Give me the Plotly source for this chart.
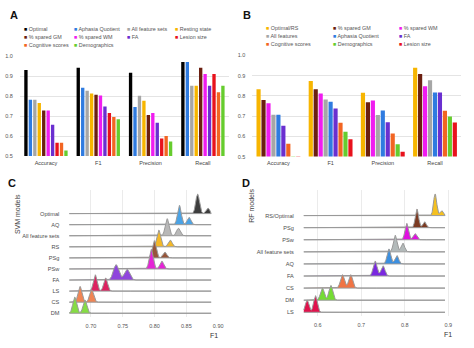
import numpy as np
import plotly.graph_objects as go

W, H = 474, 348


def px(x):
    return x / W


def py(y):
    return 1 - y / H


# ---------------- Panel A data (SVM bar chart) ----------------
metrics = ["Accuracy", "F1", "Precision", "Recall"]

a_names = ["Optimal", "Aphasia Quotient", "All feature sets", "Resting state",
           "% spared GM", "% spared WM", "FA", "Lesion size",
           "Cognitive scores", "Demographics"]
a_colors = ["#000000", "#2f7be0", "#a6a6a6", "#f7b500", "#6b1f10",
            "#f01cf0", "#6a2fd0", "#e8121c", "#f26522", "#66cc2e"]
a_accuracy = [0.930, 0.782, 0.782, 0.765, 0.728, 0.728, 0.656, 0.566, 0.566, 0.528]
a_f1 = [0.942, 0.842, 0.827, 0.813, 0.807, 0.803, 0.748, 0.715, 0.695, 0.684]
a_precision = [0.916, 0.745, 0.801, 0.777, 0.705, 0.715, 0.667, 0.588, 0.600, 0.572]
a_recall = [0.970, 0.970, 0.851, 0.851, 0.941, 0.910, 0.851, 0.910, 0.819, 0.851]

# ---------------- Panel B data (RF bar chart) ----------------
b_names = ["Optimal/RS", "% spared GM", "% spared WM", "All features",
           "Aphasia Quotient", "FA", "Cognitive scores", "Demographics",
           "Lesion size"]
b_colors = ["#f7b500", "#6b1f10", "#f01cf0", "#a6a6a6", "#2f7be0",
            "#6a2fd0", "#f26522", "#66cc2e", "#e8121c"]
b_accuracy = [0.833, 0.779, 0.763, 0.707, 0.707, 0.653, 0.564, 0.500, 0.500]
b_f1 = [0.874, 0.833, 0.812, 0.782, 0.771, 0.738, 0.667, 0.623, 0.586]
b_precision = [0.815, 0.768, 0.777, 0.706, 0.728, 0.670, 0.614, 0.561, 0.524]
b_recall = [0.939, 0.908, 0.848, 0.877, 0.817, 0.817, 0.727, 0.698, 0.668]

bar_ticks = [0.5, 0.6, 0.7, 0.8, 0.9, 1.0]

# ---------------- Panel C data (SVM ridgelines, top to bottom) ----------------
c_models = ["Optimal", "AQ", "All feature sets", "RS", "PSg", "PSw", "FA",
            "LS", "CS", "DM"]
c_peak1 = [0.8677, 0.8390, 0.8198, 0.8067, 0.7995, 0.7948, 0.7395, 0.7067, 0.6828, 0.6745]
c_peak2 = [0.8839, 0.8542, 0.8375, 0.8245, 0.8161, 0.8114, 0.7567, 0.7230, 0.7011, 0.6906]
c_h1 = [1.77, 1.75, 1.54, 1.51, 1.56, 1.77, 1.39, 1.48, 1.42, 1.46]
c_h2 = [0.50, 0.66, 0.68, 0.62, 0.53, 0.71, 0.98, 1.19, 1.12, 1.19]
c_bw = [0.0029, 0.0029, 0.0030, 0.0030, 0.0030, 0.0030, 0.0042, 0.0030, 0.0031, 0.0030]
c_colors = ["#3d3d3d", "#4aa3e6", "#b8b8b8", "#f3b828", "#96553a",
            "#e524d6", "#8f45dc", "#dc2260", "#f08554", "#86dc44"]
c_xrange = [0.666, 0.889]
c_ticks = [0.70, 0.75, 0.80, 0.85, 0.90]

# ---------------- Panel D data (RF ridgelines, top to bottom) ----------------
d_models = ["RS/Optimal", "PSg", "PSw", "All feature sets", "AQ", "FA", "CS",
            "DM", "LS"]
d_peak1 = [0.8698, 0.8280, 0.8045, 0.7780, 0.7636, 0.7318, 0.6568, 0.6107, 0.5757]
d_peak2 = [0.8848, 0.8455, 0.8234, 0.7955, 0.7818, 0.7500, 0.6757, 0.6302, 0.5948]
d_h1 = [1.79, 1.54, 1.36, 1.38, 1.24, 1.25, 1.11, 1.00, 1.01]
d_h2 = [0.41, 0.49, 0.52, 0.73, 0.70, 0.85, 1.11, 1.22, 1.38]
d_bw = [0.0036, 0.0038, 0.0040, 0.0040, 0.0042, 0.0044, 0.0045, 0.0044, 0.0042]
d_colors = ["#f5c01f", "#7b3a22", "#e012e0", "#b3baba", "#3b8fe0",
            "#7a28e0", "#f07444", "#74dc32", "#e0124c"]
d_xrange = [0.568, 0.8925]
d_ticks = [0.6, 0.7, 0.8, 0.9]

fig = go.Figure()

FONT = "Liberation Sans, Arial, sans-serif"
TICKC = "#555555"


def add_bars(names, colors, series, xa, ya, slot, bw):
    n = len(names)
    for i in range(n):
        vals = [s[i] for s in series]
        off = -n * slot / 2 + i * slot + (slot - bw) / 2
        fig.add_trace(go.Bar(
            x=metrics, y=vals, name=names[i], marker_color=colors[i],
            marker_line_width=0, offset=off, width=bw,
            xaxis=xa, yaxis=ya, showlegend=False))


add_bars(a_names, a_colors, [a_accuracy, a_f1, a_precision, a_recall],
         "x", "y", 0.085, 0.064)
add_bars(b_names, b_colors, [b_accuracy, b_f1, b_precision, b_recall],
         "x2", "y2", 0.095, 0.080)


def add_ridges(models, p1, p2, h1, h2, bws, colors, xr, xa, ya):
    grid = np.linspace(xr[0], xr[1], 600)
    n = len(models)
    for i in range(n):
        base = n - 1 - i
        dens = (h1[i] * np.exp(-0.5 * ((grid - p1[i]) / bws[i]) ** 2)
                + h2[i] * np.exp(-0.5 * ((grid - p2[i]) / bws[i]) ** 2))
        xs = np.concatenate([grid, grid[::-1]])
        ys = np.concatenate([base + dens, np.full(grid.size, base)])
        fig.add_trace(go.Scatter(
            x=xs, y=ys, mode="lines", fill="toself", fillcolor=colors[i],
            line=dict(color="#9a9a9a", width=1.0), name=models[i],
            xaxis=xa, yaxis=ya, showlegend=False, hoverinfo="skip"))


add_ridges(c_models, c_peak1, c_peak2, c_h1, c_h2, c_bw, c_colors, c_xrange, "x3", "y3")
add_ridges(d_models, d_peak1, d_peak2, d_h1, d_h2, d_bw, d_colors, d_xrange, "x4", "y4")

bar_y = dict(range=[0.5, 1.0], tickvals=bar_ticks, tickformat=".1f",
             showgrid=True, gridcolor="#e4e4e4", gridwidth=1, zeroline=False,
             showline=False, ticks="", tickfont=dict(size=5.5, color=TICKC, family=FONT),
             ticklabelstandoff=6)
bar_x = dict(type="category", showgrid=False, showline=False, ticks="",
             tickfont=dict(size=5.5, color="#444444", family=FONT), ticklabelstandoff=2)

nC = len(c_models)
nD = len(d_models)

fig.update_layout(
    width=W, height=H, margin=dict(l=0, r=0, t=0, b=0),
    paper_bgcolor="white", plot_bgcolor="white", barmode="overlay",
    font=dict(family=FONT),
    xaxis=dict(domain=[px(20), px(231.5)], anchor="y", **bar_x),
    yaxis=dict(domain=[py(155.7), py(54)], anchor="x", **bar_y),
    xaxis2=dict(domain=[px(255), px(466)], anchor="y2", **bar_x),
    yaxis2=dict(domain=[py(156.3), py(53.3)], anchor="x2", **bar_y),
    xaxis3=dict(domain=[px(63), px(220.5)], anchor="y3", range=[0.655, 0.900],
                tickvals=c_ticks, ticktext=["%.2f" % t for t in c_ticks],
                showgrid=True, gridcolor="#ebebeb", zeroline=False, ticks="",
                tickfont=dict(size=5.5, color=TICKC, family=FONT), ticklabelstandoff=5),
    yaxis3=dict(domain=[py(319), py(190)], anchor="x3", range=[-0.293, 11.156],
                tickvals=[nC - 1 - i for i in range(nC)], ticktext=c_models,
                showgrid=False, zeroline=False, ticks="",
                tickfont=dict(size=5.6, color="#4d4d4d", family=FONT), ticklabelstandoff=2),
    xaxis4=dict(domain=[px(300), px(457)], anchor="y4", range=[0.552, 0.909],
                tickvals=d_ticks, ticktext=["%.1f" % t for t in d_ticks],
                showgrid=True, gridcolor="#ebebeb", zeroline=False, ticks="",
                tickfont=dict(size=5.5, color=TICKC, family=FONT), ticklabelstandoff=5),
    yaxis4=dict(domain=[py(318), py(190)], anchor="x4", range=[-0.268, 10.14],
                tickvals=[nD - 1 - i for i in range(nD)], ticktext=d_models,
                showgrid=False, zeroline=False, ticks="",
                tickfont=dict(size=5.6, color="#4d4d4d", family=FONT), ticklabelstandoff=2),
)

ann = []
# panel letters
for letter, x, y in [("A", 8, 12), ("B", 244, 12), ("C", 6, 183), ("D", 243, 183)]:
    ann.append(dict(text="<b>%s</b>" % letter, x=px(x), y=py(y), xref="paper", yref="paper",
                    xanchor="left", yanchor="middle", showarrow=False,
                    font=dict(size=11, color="#111111", family=FONT)))


def legend_ann(names, colors, xs, ys, ncol):
    for k, (nm, col) in enumerate(zip(names, colors)):
        r, c = divmod(k, ncol)
        ann.append(dict(text='<span style="color:%s">■</span> %s' % (col, nm),
                        x=px(xs[c] - 2), y=py(ys[r]), xref="paper", yref="paper",
                        xanchor="left", yanchor="middle", showarrow=False,
                        font=dict(size=5.4, color="#555555", family=FONT)))


legend_ann(a_names, a_colors, [24, 75, 128, 177], [26.3, 34.3, 42.7], 4)
legend_ann(b_names, b_colors, [269.3, 337, 403.7], [25, 33.3, 41.3], 3)

# axis titles
ann.append(dict(text="SVM models", x=px(17), y=py(215), xref="paper", yref="paper",
                textangle=-90, showarrow=False, xanchor="center", yanchor="middle",
                font=dict(size=7, color="#444444", family=FONT)))
ann.append(dict(text="RF models", x=px(254), y=py(206), xref="paper", yref="paper",
                textangle=-90, showarrow=False, xanchor="center", yanchor="middle",
                font=dict(size=7, color="#444444", family=FONT)))
ann.append(dict(text="F1", x=px(216), y=py(338), xref="paper", yref="paper",
                showarrow=False, xanchor="center", yanchor="middle",
                font=dict(size=7, color="#333333", family=FONT)))
ann.append(dict(text="F1", x=px(453), y=py(337.7), xref="paper", yref="paper",
                showarrow=False, xanchor="center", yanchor="middle",
                font=dict(size=7, color="#333333", family=FONT)))

fig.update_layout(annotations=ann)

fig.write_html("out.html")
